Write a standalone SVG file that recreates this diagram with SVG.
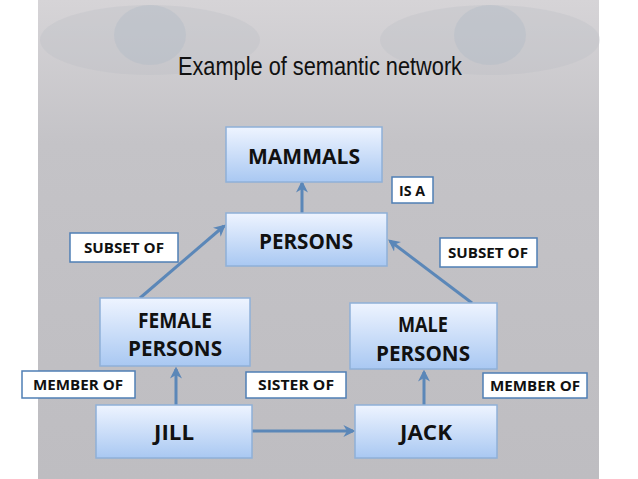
<svg xmlns="http://www.w3.org/2000/svg" width="638" height="479" viewBox="0 0 638 479">
<defs>
<linearGradient id="bg" x1="0" y1="0" x2="0" y2="1"><stop offset="0" stop-color="#d6d4d7"/><stop offset="0.3" stop-color="#c4c3c7"/><stop offset="1" stop-color="#bebdc1"/></linearGradient>
<linearGradient id="nd" x1="0" y1="0" x2="0" y2="1"><stop offset="0" stop-color="#eef4ff"/><stop offset="1" stop-color="#a9c8f2"/></linearGradient>
<marker id="ah" viewBox="0 0 10 10" refX="8" refY="5" markerWidth="4" markerHeight="4" orient="auto"><path d="M0,0 L10,5 L0,10 L3,5 z" fill="#5b87b8"/></marker>
<style>
.n{fill:url(#nd);stroke:#8fb0d8;stroke-width:1.5}
.nt{font-family:"Open Sans","Liberation Sans",sans-serif;font-weight:bold;font-size:22px;fill:#111;text-anchor:middle}
.l{fill:#fff;stroke:#4f7fb5;stroke-width:1.5}
.lt{font-family:"Open Sans","Liberation Sans",sans-serif;font-weight:bold;font-size:15px;fill:#111;text-anchor:middle}
.c{stroke:#5b87b8;stroke-width:3;fill:none;marker-end:url(#ah)}
</style>
</defs>
<rect width="638" height="479" fill="#fff"/>
<rect x="38" y="0" width="561" height="479" fill="url(#bg)"/>
<ellipse cx="150" cy="40" rx="110" ry="35" fill="#b9bcc4" opacity="0.3"/>
<ellipse cx="150" cy="35" rx="36" ry="30" fill="#a9b6c4" opacity="0.3"/>
<ellipse cx="490" cy="40" rx="110" ry="35" fill="#b9bcc4" opacity="0.3"/>
<ellipse cx="490" cy="35" rx="36" ry="30" fill="#a9b6c4" opacity="0.3"/>
<text x="320" y="75" font-family="Liberation Sans,sans-serif" font-size="25" text-anchor="middle" textLength="284" lengthAdjust="spacingAndGlyphs" fill="#111">Example of semantic network</text>
<g id="connectors">
<line class="c" x1="302" y1="213" x2="302" y2="183"/>
<line class="c" x1="140" y1="298" x2="224" y2="226"/>
<line class="c" x1="472" y1="303" x2="390" y2="241"/>
<line class="c" x1="176" y1="405" x2="176" y2="369"/>
<line class="c" x1="424" y1="405" x2="424" y2="372"/>
<line class="c" x1="252" y1="431" x2="353" y2="431"/>
</g>
<g id="mammals"><rect class="n" x="226" y="127" width="156" height="55"/><text class="nt" x="304" y="164" textLength="112" lengthAdjust="spacingAndGlyphs">MAMMALS</text></g>
<g id="persons"><rect class="n" x="226" y="213" width="161" height="53"/><text class="nt" x="306" y="249" textLength="94" lengthAdjust="spacingAndGlyphs">PERSONS</text></g>
<g id="female"><rect class="n" x="100" y="298" width="150" height="68"/><text class="nt" x="175" y="328" textLength="74" lengthAdjust="spacingAndGlyphs">FEMALE</text><text class="nt" x="175" y="356" textLength="94" lengthAdjust="spacingAndGlyphs">PERSONS</text></g>
<g id="male"><rect class="n" x="350" y="303" width="147" height="66"/><text class="nt" x="423" y="332" textLength="50" lengthAdjust="spacingAndGlyphs">MALE</text><text class="nt" x="423" y="361" textLength="94" lengthAdjust="spacingAndGlyphs">PERSONS</text></g>
<g id="jill"><rect class="n" x="96" y="405" width="156" height="53"/><text class="nt" x="174" y="440" textLength="40" lengthAdjust="spacingAndGlyphs">JILL</text></g>
<g id="jack"><rect class="n" x="355" y="405" width="142" height="53"/><text class="nt" x="426" y="440" textLength="52" lengthAdjust="spacingAndGlyphs">JACK</text></g>
<g id="l-isa"><rect class="l" x="392" y="177" width="41" height="26"/><text class="lt" x="412" y="196" textLength="26" lengthAdjust="spacingAndGlyphs">IS A</text></g>
<g id="l-sub1"><rect class="l" x="70" y="233" width="108" height="29"/><text class="lt" x="124" y="253" textLength="80" lengthAdjust="spacingAndGlyphs">SUBSET OF</text></g>
<g id="l-sub2"><rect class="l" x="440" y="238" width="97" height="29"/><text class="lt" x="488" y="258" textLength="80" lengthAdjust="spacingAndGlyphs">SUBSET OF</text></g>
<g id="l-mem1"><rect class="l" x="22" y="371" width="113" height="27"/><text class="lt" x="78" y="390" textLength="90" lengthAdjust="spacingAndGlyphs">MEMBER OF</text></g>
<g id="l-sis"><rect class="l" x="246" y="372" width="100" height="26"/><text class="lt" x="296" y="390" textLength="76" lengthAdjust="spacingAndGlyphs">SISTER OF</text></g>
<g id="l-mem2"><rect class="l" x="483" y="373" width="104" height="25"/><text class="lt" x="535" y="391" textLength="90" lengthAdjust="spacingAndGlyphs">MEMBER OF</text></g>
</svg>
